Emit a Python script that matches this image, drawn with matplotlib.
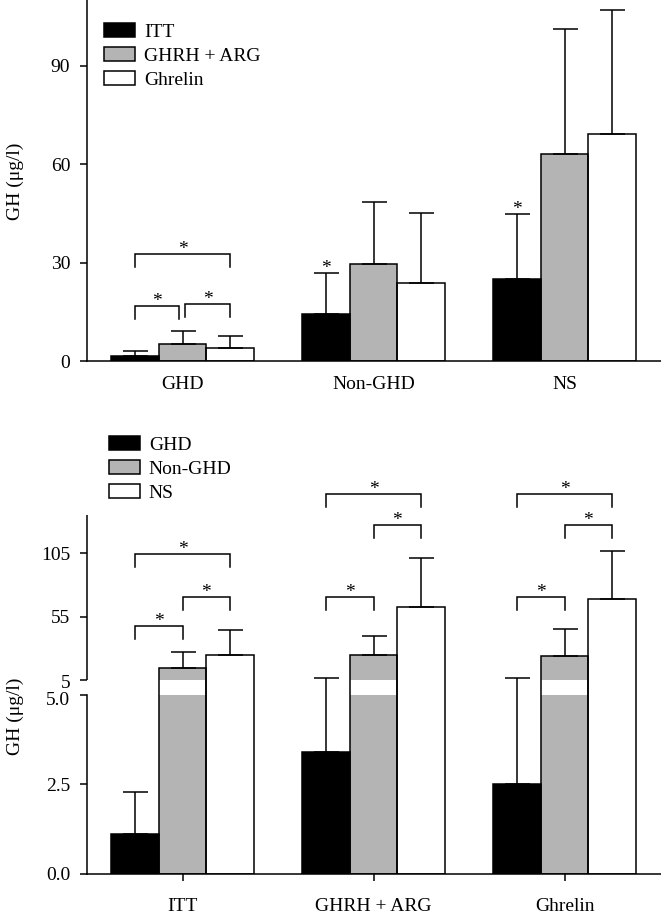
import numpy as np
import matplotlib
matplotlib.use("Agg")
import matplotlib.pyplot as plt
from matplotlib.patches import Patch

plt.rcParams['font.family'] = ['Liberation Serif', 'DejaVu Serif']
plt.rcParams['font.size'] = 14

# ---------------- data: top panel (groups on x, tests as series) ----------------
top_groups = ['GHD', 'Non-GHD', 'NS']
top_series = ['ITT', 'GHRH + ARG', 'Ghrelin']
top_itt_mean = [1.5, 14.2, 25.1]
top_itt_sd = [1.55, 12.5, 19.8]
top_ghrh_mean = [5.1, 29.6, 63.0]
top_ghrh_sd = [4.1, 18.9, 38.2]
top_ghrelin_mean = [4.1, 23.9, 69.1]
top_ghrelin_sd = [3.5, 21.3, 37.9]
top_yticks = [0, 30, 60, 90]

# ---------------- data: bottom panel (tests on x, groups as series) ----------------
bot_tests = ['ITT', 'GHRH + ARG', 'Ghrelin']
bot_series = ['GHD', 'Non-GHD', 'NS']
bot_ghd_mean = [1.11, 3.41, 2.5]
bot_ghd_sd = [1.18, 3.4, 4.3]
bot_nonghd_mean = [14.2, 24.8, 24.2]
bot_nonghd_sd = [12.7, 15.2, 20.8]
bot_ns_mean = [25.0, 62.9, 69.0]
bot_ns_sd = [19.5, 38.4, 37.8]
bot_ytick_values = [0.0, 2.5, 5.0, 5.01, 55, 105]
bot_ytick_labels = ['0.0', '2.5', '5.0', '5', '55', '105']

# significance brackets: (group index, bar i, bar j, level)
top_brackets = [(0, 0, 2, 32.6), (0, 0, 1, 16.9), (0, 1, 2, 17.4)]
top_single_stars = [(1, 0), (2, 0)]  # (group, bar) star over error bar
bot_brackets = [(0, 0, 2, 104.5), (0, 0, 1, 47.9), (0, 1, 2, 70.3),
                (1, 0, 2, 151.8), (1, 1, 2, 127.1), (1, 0, 1, 70.3),
                (2, 0, 2, 151.8), (2, 1, 2, 127.1), (2, 0, 1, 70.3)]

colors = ['black', '#b4b4b4', 'white']
W = 661
H = 916
fig = plt.figure(figsize=(W / 100, H / 100), dpi=100)

LW = 1.1
BW = 0.25
offs = np.array([-BW, 0, BW])


def draw_bars(ax, means, sds):
    x0 = np.arange(len(means[0]))
    for k, (m, s) in enumerate(zip(means, sds)):
        x = x0 + offs[k]
        ax.bar(x, m, BW, color=colors[k], edgecolor='none', zorder=1)
        ax.bar(x, m, BW, fill=False, edgecolor='black', linewidth=LW, zorder=3)
        ax.errorbar(x, m, yerr=[np.zeros(len(m)), s], fmt='none', ecolor='black',
                    elinewidth=LW, capsize=9, capthick=LW, zorder=2.5)


def draw_brackets(ax, brackets, leg, nudge=False):
    for g, i, j, y in brackets:
        xa = g + offs[i]
        xb = g + offs[j]
        if nudge and j - i == 1 and i == 0:
            xb -= 0.02
        if nudge and j - i == 1 and i == 1:
            xa += 0.015
        ax.plot([xa, xa, xb, xb], [y - leg, y, y, y - leg], color='black', lw=LW,
                clip_on=False, zorder=4, solid_joinstyle='miter')
        ax.annotate('*', xy=((xa + xb) / 2, y), xytext=(0, 0), textcoords='offset points',
                    ha='center', va='baseline', fontsize=14, annotation_clip=False)


def style_axes(ax):
    for s in ['top', 'right']:
        ax.spines[s].set_visible(False)
    for s in ['left', 'bottom']:
        ax.spines[s].set_linewidth(LW)
    ax.tick_params(axis='y', direction='out', length=5, width=LW, pad=7, labelsize=14)


# ---------------- top panel ----------------
ax1 = fig.add_axes([87 / W, (H - 361) / H, (W - 87) / W, 361 / H])
draw_bars(ax1, [top_itt_mean, top_ghrh_mean, top_ghrelin_mean],
          [top_itt_sd, top_ghrh_sd, top_ghrelin_sd])
ax1.set_xlim(-0.5, 2.505)
ax1.set_ylim(0, 110)
ax1.set_yticks(top_yticks)
ax1.set_xticks(range(len(top_groups)))
ax1.set_xticklabels(top_groups)
style_axes(ax1)
ax1.tick_params(axis='x', length=0, pad=11, labelsize=14)
draw_brackets(ax1, top_brackets, 4.0, nudge=True)
tm = [top_itt_mean, top_ghrh_mean, top_ghrelin_mean]
ts = [top_itt_sd, top_ghrh_sd, top_ghrelin_sd]
for g, b in top_single_stars:
    ax1.annotate('*', xy=(g + offs[b], tm[b][g] + ts[b][g]), xytext=(0, 0),
                 textcoords='offset points', ha='center', va='baseline', fontsize=14)

h1 = [Patch(facecolor=c, edgecolor='black', linewidth=LW) for c in colors]
ax1.legend(h1, top_series, loc='upper left', bbox_to_anchor=(104 / W, 1 - 23 / H),
           bbox_transform=fig.transFigure, frameon=False, borderpad=0, borderaxespad=0,
           handlelength=1.6, handleheight=0.77, handletextpad=0.45, labelspacing=0.3,
           fontsize=14)

# ---------------- bottom panel (broken axis via piecewise scale) ----------------
EPS = 0.01
LOWK = 35.8
UPK = 1.267
GAP = 15.0
xp = np.array([-1000.0, 5.0, 5.0 + EPS, 1000.0])
fp = np.array([-1000.0 * LOWK, 5 * LOWK, 5 * LOWK + GAP, 5 * LOWK + GAP + (1000 - 5 - EPS) * UPK])


def fwd(v):
    return np.interp(v, xp, fp)


def inv(y):
    return np.interp(y, fp, xp)


ax2 = fig.add_axes([87 / W, (H - 874) / H, (W - 87) / W, 359 / H])
ax2.set_yscale('function', functions=(fwd, inv))
draw_bars(ax2, [bot_ghd_mean, bot_nonghd_mean, bot_ns_mean],
          [bot_ghd_sd, bot_nonghd_sd, bot_ns_sd])
ax2.axhspan(5.0, 5.0 + EPS, color='white', lw=0, zorder=2)
ax2.set_xlim(-0.5, 2.505)
ytop = 135.2
ax2.set_ylim(0, ytop)
ax2.set_yticks(bot_ytick_values)
# labels at the axis break are drawn separately with small offsets
shown = [lab if i not in (2, 3) else '' for i, lab in enumerate(bot_ytick_labels)]
ax2.set_yticklabels(shown)
ax2.yaxis.set_minor_locator(matplotlib.ticker.NullLocator())
ax2.set_xticks(range(len(bot_tests)))
ax2.set_xticklabels(bot_tests)
style_axes(ax2)
ax2.tick_params(axis='x', direction='out', length=5, width=LW, pad=12, labelsize=14)
ax2.spines['left'].set_bounds(0, 5.0)
ax2.plot([0, 0], [5.0 + EPS, ytop], transform=ax2.get_yaxis_transform(), color='black',
         lw=LW, clip_on=False, solid_capstyle='butt', zorder=2.5)
draw_brackets(ax2, bot_brackets, 10.3)

ax2.annotate(bot_ytick_labels[2], xy=(0, bot_ytick_values[2]), xycoords=ax2.get_yaxis_transform(),
             xytext=(-12, -2.5), textcoords='offset points', ha='right', va='center_baseline',
             fontsize=14, annotation_clip=False)
ax2.annotate(bot_ytick_labels[3], xy=(0, bot_ytick_values[3]), xycoords=ax2.get_yaxis_transform(),
             xytext=(-12, -1.0), textcoords='offset points', ha='right', va='center_baseline',
             fontsize=14, annotation_clip=False)

h2 = [Patch(facecolor=c, edgecolor='black', linewidth=LW) for c in colors]
ax2.legend(h2, bot_series, loc='upper left', bbox_to_anchor=(109 / W, 1 - 436 / H),
           bbox_transform=fig.transFigure, frameon=False, borderpad=0, borderaxespad=0,
           handlelength=1.6, handleheight=0.77, handletextpad=0.45, labelspacing=0.3,
           fontsize=14)

# y labels
fig.text(15 / W, 1 - 181 / H, 'GH (μg/l)', rotation=90, ha='center', va='center', fontsize=14)
fig.text(15 / W, 1 - 716 / H, 'GH (μg/l)', rotation=90, ha='center', va='center', fontsize=14)

fig.savefig('out.png', dpi=100)
